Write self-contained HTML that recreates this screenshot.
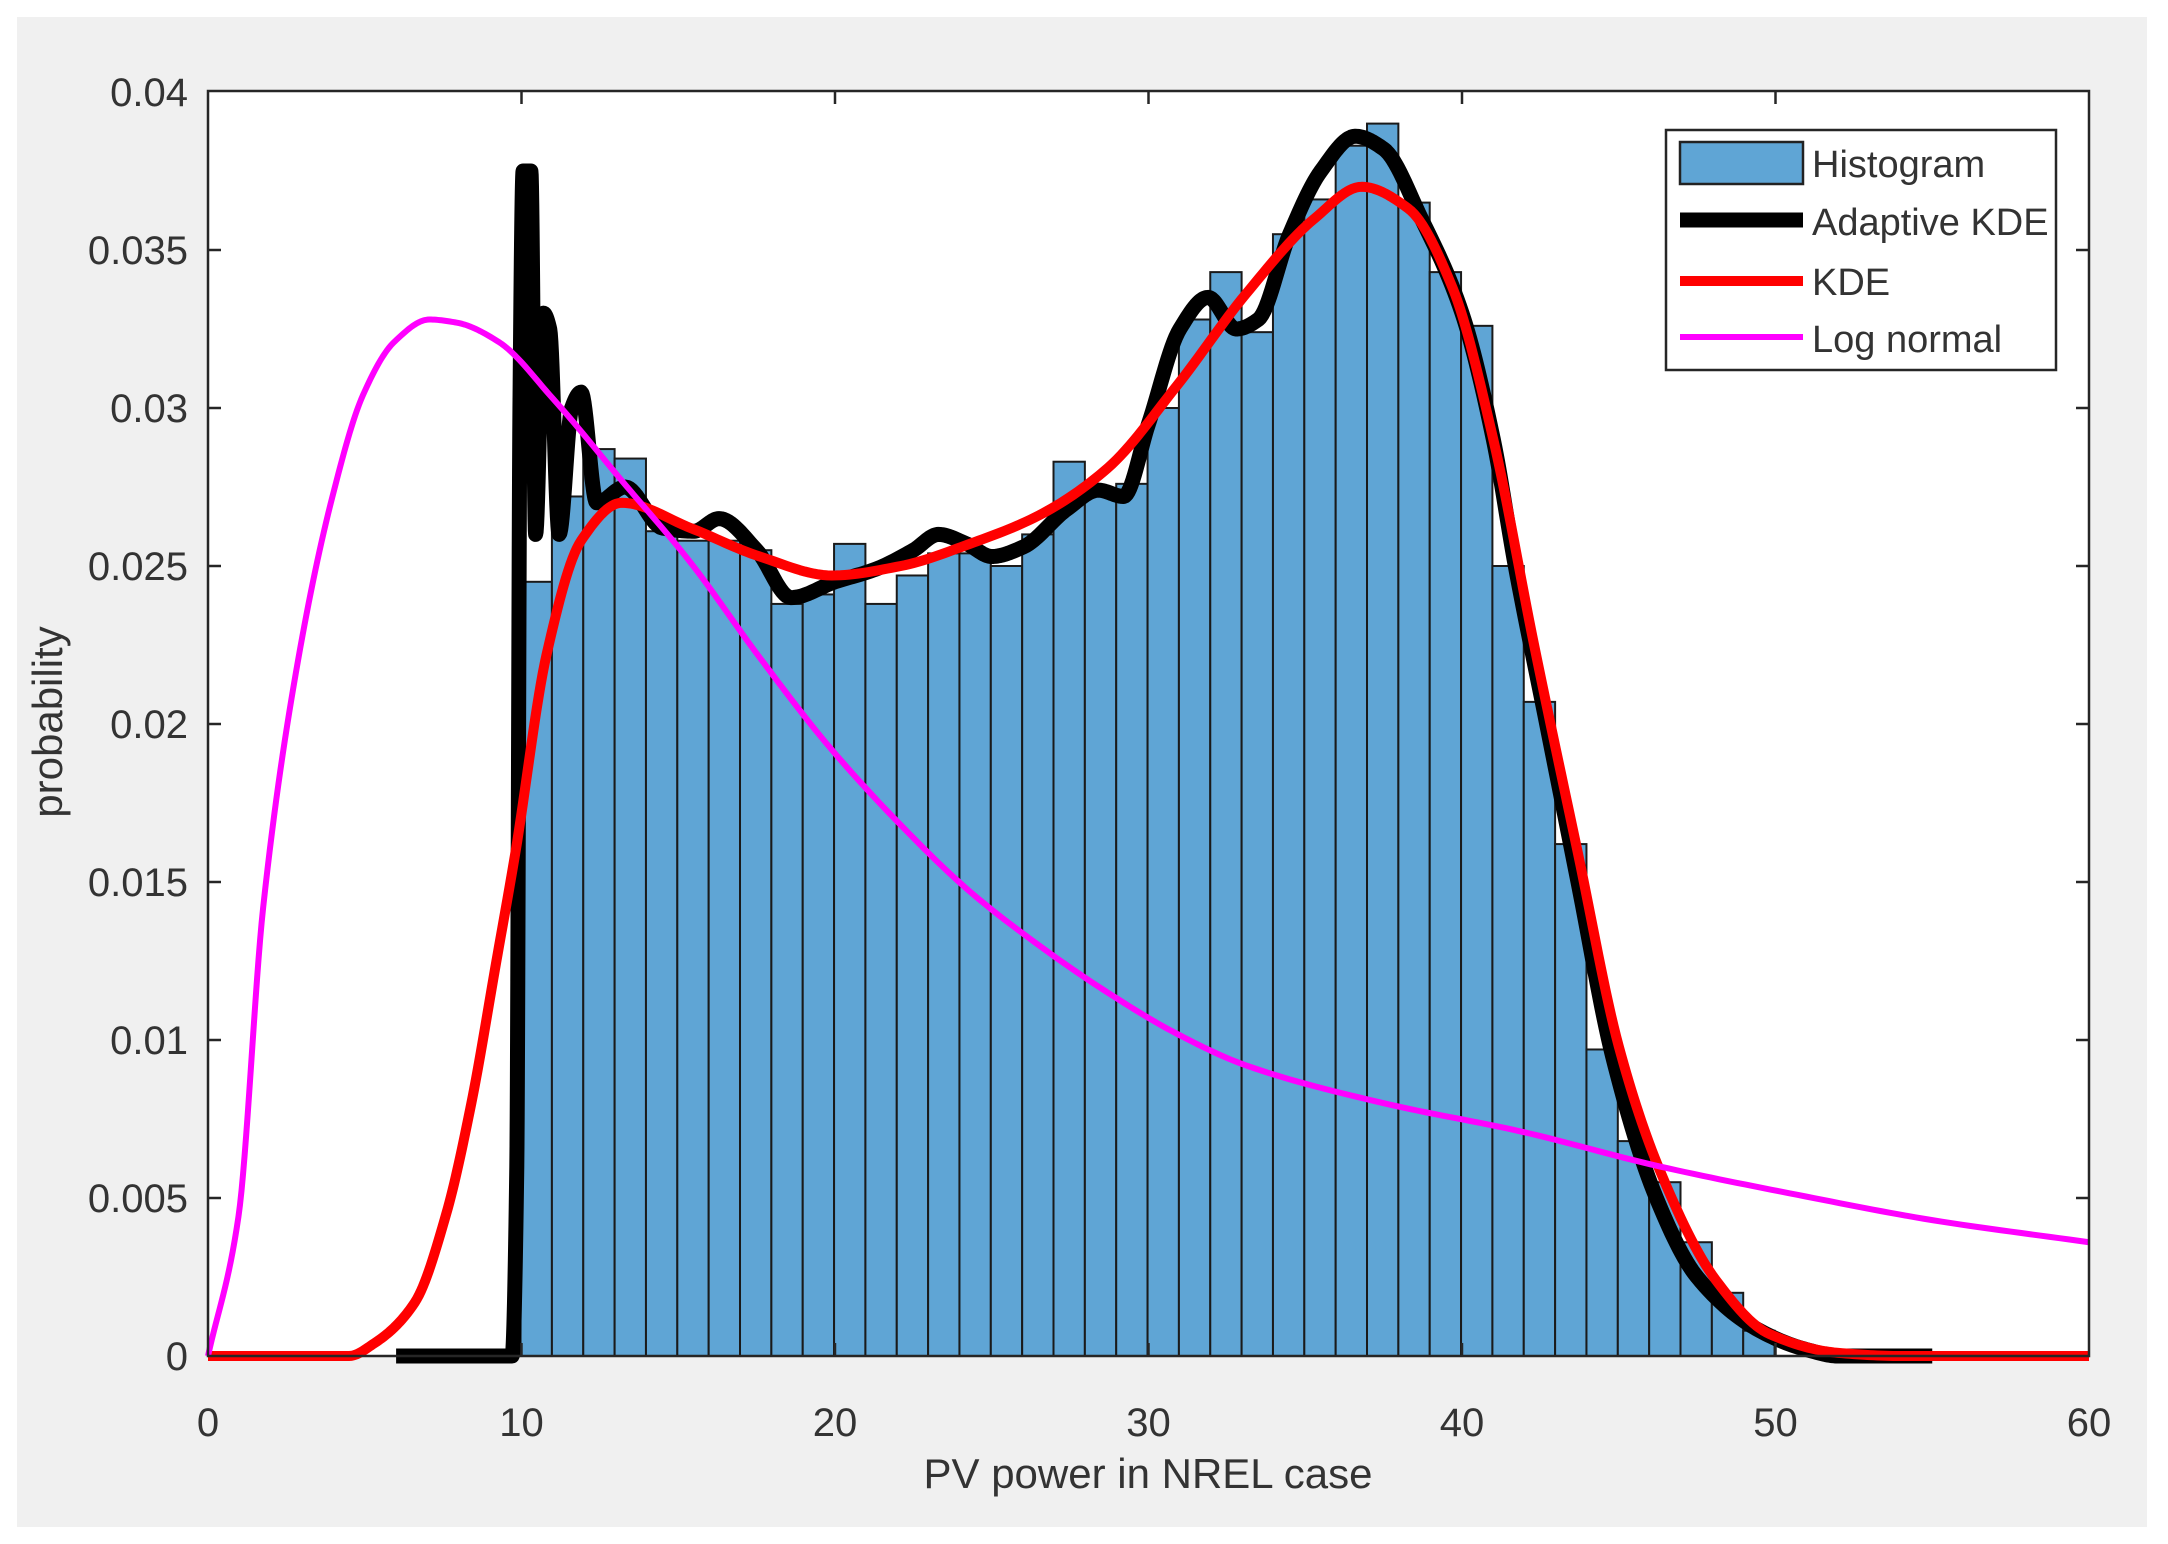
<!DOCTYPE html>
<html><head><meta charset="utf-8"><style>
html,body{margin:0;padding:0;background:#fff;}
svg{display:block;}
text{font-family:"Liberation Sans",Arial,sans-serif;fill:#333;}
</style></head><body>
<svg id="s" width="2168" height="1544" xmlns="http://www.w3.org/2000/svg">
<rect x="17" y="17" width="2130" height="1510" fill="#f0f0f0"/>
<rect x="208" y="91" width="1881" height="1265" fill="#fff"/>
<g id="bars"></g>
<g id="curves"></g>
<rect x="208" y="91" width="1881" height="1265" fill="none" stroke="#262626" stroke-width="2.5"/>
<g id="ticks" stroke="#262626" stroke-width="2.5"></g>
<g id="labels" font-size="40"></g>
<text x="1148" y="1488" font-size="42" text-anchor="middle">PV power in NREL case</text>
<text transform="translate(62,722) rotate(-90)" font-size="42" text-anchor="middle">probability</text>
<rect x="1666" y="130" width="390" height="240" fill="#fff" stroke="#262626" stroke-width="2.5"/>
<rect x="1680" y="142" width="123" height="42" fill="#5fa5d5" stroke="#222" stroke-width="2.5"/>
<line x1="1680" y1="220" x2="1803" y2="220" stroke="#000" stroke-width="15"/>
<line x1="1680" y1="281" x2="1803" y2="281" stroke="#ff0000" stroke-width="10"/>
<line x1="1680" y1="337" x2="1803" y2="337" stroke="#ff00ff" stroke-width="6"/>
<text x="1812" y="177" font-size="38" fill="#111">Histogram</text>
<text x="1812" y="235" font-size="38" fill="#111">Adaptive KDE</text>
<text x="1812" y="295" font-size="38" fill="#111">KDE</text>
<text x="1812" y="352" font-size="38" fill="#111">Log normal</text>
</svg>
<script>
var X=function(x){return 208+31.35*x;},Y=function(y){return 1356-31600*y;};
var NS="http://www.w3.org/2000/svg";
function el(p,t,a){var e=document.createElementNS(NS,t);for(var k in a)e.setAttribute(k,a[k]);p.appendChild(e);return e;}
var h=[0.0245,0.0272,0.0287,0.0284,0.0261,0.0258,0.0258,0.0255,0.0238,0.0241,0.0257,0.0238,0.0247,0.0254,0.0254,0.0250,0.0260,0.0283,0.0274,0.0276,0.0300,0.0328,0.0343,0.0324,0.0355,0.0366,0.0383,0.0390,0.0365,0.0343,0.0326,0.0250,0.0207,0.0162,0.0097,0.0068,0.0055,0.0036,0.0020,0.0008];
var b=document.getElementById('bars');
for(var i=0;i<h.length;i++){var x0=9.97+i;el(b,'rect',{x:X(x0),y:Y(h[i]),width:31.35,height:31600*h[i],fill:'#5fa5d5',stroke:'#1a1a1a','stroke-width':2});}
function path(pts){
var n=pts.length,xs=pts.map(function(q){return q[0];}),ys=pts.map(function(q){return q[1];});
var d=[],m=[];for(var i=0;i<n-1;i++)d.push((ys[i+1]-ys[i])/(xs[i+1]-xs[i]));
m[0]=d[0];m[n-1]=d[n-2];
for(var i=1;i<n-1;i++){if(d[i-1]*d[i]<=0)m[i]=0;else{var w1=2*(xs[i+1]-xs[i])+(xs[i]-xs[i-1]),w2=(xs[i+1]-xs[i])+2*(xs[i]-xs[i-1]);m[i]=(w1+w2)/(w1/d[i-1]+w2/d[i]);}}
var s='M'+X(xs[0])+','+Y(ys[0]);
for(var i=0;i<n-1;i++){var hh=xs[i+1]-xs[i];
for(var k=1;k<=16;k++){var t=k/16,t2=t*t,t3=t2*t;
var y=(2*t3-3*t2+1)*ys[i]+(t3-2*t2+t)*hh*m[i]+(-2*t3+3*t2)*ys[i+1]+(t3-t2)*hh*m[i+1];
s+=' L'+X(xs[i]+t*hh).toFixed(2)+','+Y(y).toFixed(2);}}
return s;}
var c=document.getElementById('curves');
var ak=[[6,0],[9.7,0],[9.85,0.006],[9.95,0.030],[10.05,0.0375],[10.3,0.0375],[10.45,0.026],[10.7,0.033],[10.9,0.0325],[11.2,0.026],[11.6,0.030],[11.9,0.0305],[12.4,0.027],[13.3,0.0275],[14.5,0.0262],[15.5,0.0261],[16.3,0.0265],[17.5,0.0255],[18.6,0.0240],[20,0.0245],[21.3,0.0249],[22.5,0.0255],[23.3,0.0260],[24.2,0.0257],[25,0.0253],[26,0.0256],[27.4,0.0268],[28.4,0.0274],[29.2,0.0272],[30,0.0295],[31,0.0325],[31.9,0.0335],[32.8,0.0325],[33.5,0.0328],[34.5,0.0355],[35.5,0.0375],[36.6,0.0386],[37.5,0.0382],[38.7,0.036],[40,0.033],[41,0.029],[41.7,0.025],[42.7,0.020],[43.7,0.015],[44.8,0.0095],[46.2,0.005],[47.5,0.0025],[49.5,0.0008],[51,0.0002],[52,0],[55,0]];
var kde=[[0,0],[4.5,0],[5.3,0.0004],[6.6,0.0017],[7.6,0.0045],[8.4,0.008],[9.2,0.0125],[9.8,0.0159],[10.8,0.0222],[11.9,0.0258],[13.2,0.0270],[15.4,0.0262],[17.6,0.0253],[19.9,0.0247],[22.1,0.0250],[24.3,0.0257],[26.5,0.0266],[28.7,0.0281],[30.9,0.0307],[33.1,0.0336],[35.3,0.0360],[36.8,0.0370],[38.3,0.0363],[39.7,0.0338],[41.0,0.0290],[42.3,0.0225],[43.7,0.0159],[45.0,0.0098],[46.3,0.0059],[48.1,0.0024],[49.8,0.0007],[52,0.0001],[54,0],[60,0]];
var ln=[[0,0],[0.97,0.0044],[1.76,0.0142],[2.87,0.0220],[3.97,0.0272],[4.94,0.0304],[5.95,0.0321],[7.06,0.0328],[7.94,0.0327],[9.26,0.0321],[11.0,0.0303],[13.2,0.0277],[15.4,0.0251],[17.6,0.0221],[19.8,0.0193],[22.1,0.0168],[24.3,0.0147],[26.5,0.0130],[28.7,0.0115],[30.9,0.0102],[33.1,0.0092],[37.5,0.0080],[41.9,0.0071],[46.3,0.0060],[50.7,0.0051],[55,0.0043],[60,0.0036]];
el(c,'path',{d:path(ak),fill:'none',stroke:'#000','stroke-width':15,'stroke-linejoin':'round'});
el(c,'path',{d:path(kde),fill:'none',stroke:'#ff0000','stroke-width':10,'stroke-linejoin':'round'});
el(c,'path',{d:path(ln),fill:'none',stroke:'#ff00ff','stroke-width':6,'stroke-linejoin':'round'});
var t=document.getElementById('ticks'),L=document.getElementById('labels');
for(var i=0;i<=6;i++){var x=X(i*10);if(i>0&&i<6){el(t,'line',{x1:x,y1:1356,x2:x,y2:1343});el(t,'line',{x1:x,y1:91,x2:x,y2:104});}
var tx=el(L,'text',{x:x,y:1436,'text-anchor':'middle'});tx.textContent=String(i*10);}
var yl=['0','0.005','0.01','0.015','0.02','0.025','0.03','0.035','0.04'];
for(var j=0;j<=8;j++){var y=Y(j*0.005);if(j>0&&j<8){el(t,'line',{x1:208,y1:y,x2:221,y2:y});el(t,'line',{x1:2089,y1:y,x2:2076,y2:y});}
var ty=el(L,'text',{x:188,y:y+14,'text-anchor':'end'});ty.textContent=yl[j];}
</script>
</body></html>
